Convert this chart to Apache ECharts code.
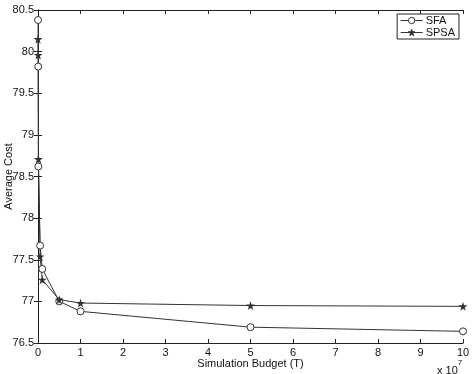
<!DOCTYPE html>
<html>
<head>
<meta charset="utf-8">
<script src="https://cdn.jsdelivr.net/npm/echarts@6/dist/echarts.min.js"></script>
<style>html,body{margin:0;padding:0;background:#fff}#c{width:474px;height:374px}</style>
</head>
<body>
<div id="c"></div>
<script>
var budgets = [0.001, 0.005, 0.01, 0.05, 0.1, 0.5, 1, 5, 10];
var sfaValues = [80.38, 79.82, 78.62, 77.67, 77.39, 77.00, 76.88, 76.69, 76.64];
var spsaValues = [80.15, 79.96, 78.71, 77.54, 77.26, 77.02, 76.98, 76.95, 76.94];
var xTicks = [0,1,2,3,4,5,6,7,8,9,10];
var yTicks = [76.5,77,77.5,78,78.5,79,79.5,80,80.5];

var star = 'path://M50,0 L61,35 L98,35 L68,57 L79,91 L50,70 L21,91 L32,57 L2,35 L39,35 Z';
var font = 'Liberation Sans, Arial, Helvetica, sans-serif';
var axisColor = '#222';

function pairs(xs, ys){ return xs.map(function(x,i){ return [x, ys[i]]; }); }

var chart = echarts.init(document.getElementById('c'));
chart.setOption({
  animation: false,
  backgroundColor: '#fff',
  grid: {left: 38, top: 10, right: 11, bottom: 31, containLabel: false, outerBoundsMode: 'none'},
  legend: {
    top: 14, right: 15,
    orient: 'vertical',
    backgroundColor: '#fff',
    borderColor: '#222', borderWidth: 1,
    padding: [1, 4, 1, 3],
    itemGap: 1,
    itemWidth: 22, itemHeight: 8,
    itemStyle: {borderWidth: 1},
    lineStyle: {width: 1},
    textStyle: {fontFamily: font, fontSize: 11, color: '#111', padding: [0,0,0,-2]},
    data: ['SFA', 'SPSA']
  },
  xAxis: [{
    type: 'value', min: 0, max: 10, interval: 1,
    name: 'Simulation Budget (T)', nameLocation: 'middle', nameGap: 15, nameMoveOverlap: false,
    nameTextStyle: {fontFamily: font, fontSize: 11, color: '#111'},
    axisLine: {lineStyle: {color: axisColor, width: 1}},
    axisTick: {inside: true, length: 4, lineStyle: {color: axisColor}},
    axisLabel: {fontFamily: font, fontSize: 11, color: '#111', margin: 4,
      formatter: function(v){ return xTicks.indexOf(v) >= 0 ? String(v) : ''; }},
    splitLine: {show: false}
  }, {
    type: 'value', position: 'top', min: 0, max: 10, interval: 1,
    axisLine: {show: true, lineStyle: {color: axisColor, width: 1}},
    axisTick: {inside: true, length: 4, lineStyle: {color: axisColor}},
    axisLabel: {show: false}, splitLine: {show: false}
  }],
  yAxis: [{
    type: 'value', min: 76.5, max: 80.5, interval: 0.5,
    name: 'Average Cost', nameLocation: 'middle', nameGap: 24, nameMoveOverlap: false,
    nameTextStyle: {fontFamily: font, fontSize: 11, color: '#111'},
    axisLine: {show: true, lineStyle: {color: axisColor, width: 1}},
    axisTick: {show: true, inside: true, length: 4, lineStyle: {color: axisColor}},
    axisLabel: {fontFamily: font, fontSize: 11, color: '#111', margin: 4,
      formatter: function(v){ return yTicks.indexOf(v) >= 0 ? String(v) : ''; }},
    splitLine: {show: false}
  }, {
    type: 'value', position: 'right', min: 76.5, max: 80.5, interval: 0.5,
    axisLine: {show: true, lineStyle: {color: axisColor, width: 1}},
    axisTick: {show: true, inside: true, length: 4, lineStyle: {color: axisColor}},
    axisLabel: {show: false}, splitLine: {show: false}
  }],
  series: [{
    name: 'SFA', type: 'line', data: pairs(budgets, sfaValues),
    symbol: 'circle', symbolSize: 7, showAllSymbol: true,
    lineStyle: {color: '#333', width: 1},
    itemStyle: {color: '#fff', borderColor: '#333', borderWidth: 1}
  }, {
    name: 'SPSA', type: 'line', data: pairs(budgets, spsaValues),
    symbol: star, symbolSize: 9, showAllSymbol: true,
    lineStyle: {color: '#333', width: 1},
    itemStyle: {color: '#333', borderColor: '#333', borderWidth: 0}
  }],
  graphic: [{
    type: 'text', left: 437, top: 359,
    style: {
      text: '{b|x 10}{s|7}',
      rich: {
        b: {fontFamily: font, fontSize: 11, fill: '#111', padding: [6,0,0,0]},
        s: {fontFamily: font, fontSize: 8, fill: '#111', verticalAlign: 'top'}
      }
    }
  }]
});
</script>
</body>
</html>
